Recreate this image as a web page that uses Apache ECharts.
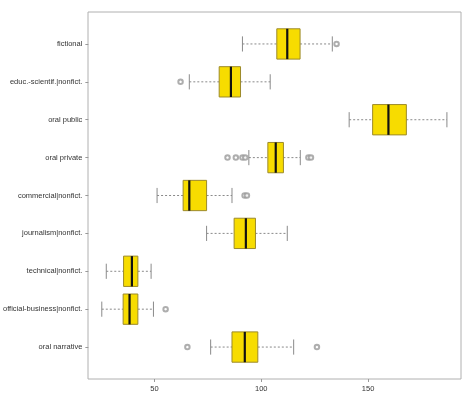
<!DOCTYPE html>
<html>
<head>
<meta charset="utf-8">
<script src="https://cdn.jsdelivr.net/npm/echarts@6/dist/echarts.min.js"></script>
<style>html,body{margin:0;padding:0;background:#fff}#c{width:474px;height:395px}</style>
</head>
<body>
<div id="c"></div>
<script>
const categories = ["fictional","educ.-scientif.|nonfict.","oral public","oral private","commercial|nonfict.","journalism|nonfict.","technical|nonfict.","official-business|nonfict.","oral narrative"];
// [lower whisker, Q1, median, Q3, upper whisker]
const boxStats = [
  [91.1, 107.2, 112.1, 118.1, 133.2],
  [66.2, 80.2, 85.7, 90.2, 104.1],
  [141.1, 152.1, 159.5, 167.9, 186.9],
  [94.1, 103.0, 106.7, 110.3, 118.2],
  [51.1, 63.3, 66.2, 74.3, 86.2],
  [74.3, 87.2, 92.7, 97.2, 112.1],
  [27.3, 35.4, 39.3, 42.1, 48.3],
  [25.2, 35.2, 38.2, 42.1, 49.4],
  [76.2, 86.2, 92.2, 98.3, 115.1]
];
const outliers = [
  [135.2, "fictional"],
  [62.1, "educ.-scientif.|nonfict."],
  [84.1, "oral private"], [88.0, "oral private"], [91.1, "oral private"], [92.4, "oral private"], [122.0, "oral private"], [123.2, "oral private"],
  [92.1, "commercial|nonfict."], [93.2, "commercial|nonfict."],
  [55.1, "official-business|nonfict."],
  [65.3, "oral narrative"], [126.0, "oral narrative"]
];
const xTicks = [50, 100, 150];
const xMin = 18.9, xMax = 193.5;

const boxData = boxStats.map((s, i) => [i].concat(s));

function renderBox(params, api) {
  const cat = api.value(0);
  const lo = api.coord([api.value(1), cat]);
  const q1 = api.coord([api.value(2), cat]);
  const md = api.coord([api.value(3), cat]);
  const q3 = api.coord([api.value(4), cat]);
  const hi = api.coord([api.value(5), cat]);
  const band = api.size([0, 1])[1];
  const bh = band * 0.8;
  const cap = bh * 0.5;
  const y = lo[1];
  const wStyle = {stroke: '#8a8a8a', lineWidth: 1, lineDash: [2, 2], fill: null};
  const cStyle = {stroke: '#8a8a8a', lineWidth: 1, fill: null};
  return {
    type: 'group',
    children: [
      {type: 'line', shape: {x1: lo[0], y1: y, x2: q1[0], y2: y}, style: wStyle},
      {type: 'line', shape: {x1: q3[0], y1: y, x2: hi[0], y2: y}, style: wStyle},
      {type: 'line', shape: {x1: lo[0], y1: y - cap / 2, x2: lo[0], y2: y + cap / 2}, style: cStyle},
      {type: 'line', shape: {x1: hi[0], y1: y - cap / 2, x2: hi[0], y2: y + cap / 2}, style: cStyle},
      {type: 'rect', shape: {x: q1[0], y: y - bh / 2, width: q3[0] - q1[0], height: bh},
        style: {fill: '#F7DC00', stroke: '#9c8a2a', lineWidth: 1}},
      {type: 'line', shape: {x1: md[0], y1: y - bh / 2, x2: md[0], y2: y + bh / 2},
        style: {stroke: '#111', lineWidth: 2.2}}
    ]
  };
}

const chart = echarts.init(document.getElementById('c'), null, {renderer: 'canvas'});
const font = "'Liberation Sans', Arial, sans-serif";
chart.setOption({
  animation: false,
  backgroundColor: '#fff',
  grid: [
    {left: 88, right: 13, top: 12, bottom: 16, show: true, borderColor: '#b0b0b0', borderWidth: 1, backgroundColor: 'transparent'},
    {left: 88, right: 13, top: 25, bottom: 29}
  ],
  xAxis: [
    {gridIndex: 0, type: 'value', min: xMin, max: xMax,
      axisLine: {show: false},
      axisTick: {show: true, length: 3, lineStyle: {color: '#999'}, customValues: xTicks},
      axisLabel: {show: true, fontSize: 7.5, color: '#333', fontFamily: font, margin: 6, customValues: xTicks},
      splitLine: {show: false}},
    {gridIndex: 1, type: 'value', min: xMin, max: xMax, show: false}
  ],
  yAxis: [
    {gridIndex: 0, type: 'value', min: 0, max: 1, show: false},
    {gridIndex: 1, type: 'category', data: categories, inverse: true,
      axisLine: {show: false},
      axisTick: {show: true, length: 3, alignWithLabel: true, lineStyle: {color: '#999'}},
      axisLabel: {fontSize: 7.5, color: '#333', fontFamily: font, margin: 6},
      splitLine: {show: false}}
  ],
  series: [
    {type: 'custom', xAxisIndex: 1, yAxisIndex: 1, data: boxData, renderItem: renderBox,
      encode: {x: [1, 2, 3, 4, 5], y: 0}, silent: true, z: 2},
    {type: 'scatter', xAxisIndex: 1, yAxisIndex: 1, data: outliers, symbol: 'emptyCircle', symbolSize: 4.5,
      itemStyle: {color: '#9a9a9a', borderColor: '#9a9a9a', borderWidth: 0.6}, silent: true, z: 3}
  ]
});
</script>
</body>
</html>
